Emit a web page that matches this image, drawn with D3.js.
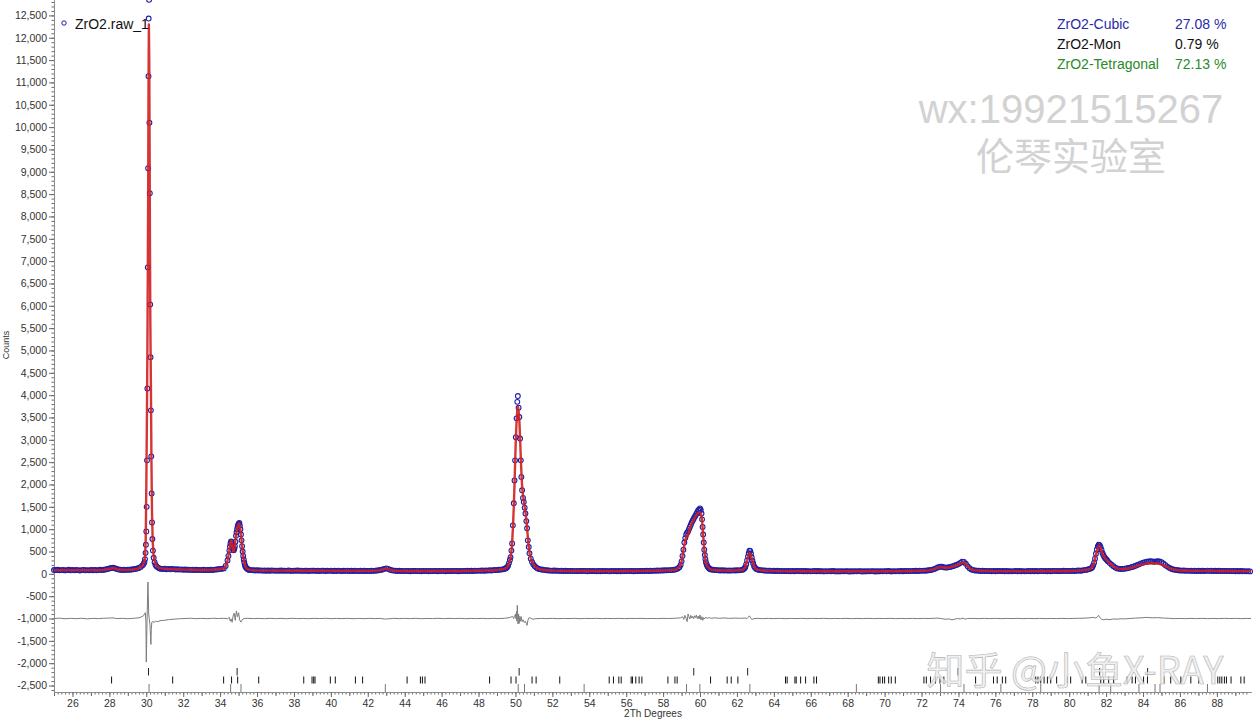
<!DOCTYPE html>
<html>
<head>
<meta charset="utf-8">
<script src="https://cdn.jsdelivr.net/npm/d3@7"></script>
<style>
body { margin: 0; background: #fff; }
svg { display: block; font-family: "Liberation Sans", Arial, sans-serif; }
.axis path { stroke: #8c8c8c; }
.axis line { stroke: #6a6a6a; }
.axis text { fill: #333; font-size: 10.5px; font-family: "Liberation Sans", Arial, sans-serif; }
</style>
</head>
<body>
<script>
// observed counts, [2theta, counts]
var observed = [
[25.0,86],[25.1,82],[25.2,90],[25.3,79],[25.4,84],[25.5,88],[25.6,77],[25.7,83],[25.8,91],[25.9,80],
[26.0,85],[26.1,78],[26.2,87],[26.3,82],[26.4,76],[26.5,84],[26.6,89],[26.7,80],[26.8,83],[26.9,78],
[27.0,86],[27.1,81],[27.2,88],[27.3,79],[27.4,84],[27.5,90],[27.6,85],[27.7,92],[27.8,98],[27.9,108],
[28.0,120],[28.1,131],[28.2,136],[28.3,124],[28.4,108],[28.5,96],[28.6,90],[28.7,86],[28.8,92],[28.9,88],
[29.0,94],[29.1,90],[29.2,97],[29.3,102],[29.4,108],[29.5,118],[29.6,132],[29.7,155],[29.8,190],[29.85,220],
[29.9,260],[29.93,330],[29.96,470],[29.98,650],[30.0,950],[30.02,1500],[30.04,2540],[30.06,4150],[30.08,6860],
[30.1,9080],[30.12,11140],[30.13,12430],[30.15,12850],[30.17,10100],[30.19,8520],[30.21,6030],[30.23,4850],
[30.25,3660],[30.27,2630],[30.29,1800],[30.31,1150],[30.33,780],[30.36,520],[30.4,360],[30.45,260],[30.5,200],
[30.56,165],[30.64,140],[30.72,120],
[30.8,112],[30.9,108],[31.0,115],[31.1,104],[31.2,110],[31.3,102],[31.4,112],[31.5,106],[31.6,98],[31.7,103],
[31.8,95],[31.9,100],[32.0,92],[32.1,97],[32.2,90],[32.3,94],[32.4,88],[32.5,93],[32.6,86],[32.7,91],
[32.8,85],[32.9,89],[33.0,84],[33.1,90],[33.2,83],[33.3,88],[33.4,86],[33.5,92],[33.6,87],[33.7,95],
[33.8,98],[33.9,104],[34.0,110],
[34.1,112],[34.2,122],[34.3,178],[34.4,300],[34.45,400],[34.5,520],[34.53,610],[34.56,680],[34.59,727],[34.62,710],
[34.65,640],[34.68,580],[34.71,535],[34.74,526],[34.77,560],[34.8,620],[34.83,720],[34.86,850],[34.89,930],[34.92,1000],
[34.95,1060],[34.98,1100],[35.01,1120],[35.04,1140],[35.07,1080],[35.1,1000],[35.13,880],[35.16,750],[35.19,620],[35.22,500],
[35.25,400],[35.28,320],[35.31,255],[35.34,200],[35.37,165],[35.4,140],[35.45,118],[35.5,102],[35.55,92],[35.6,88],
[35.7,84],[35.8,80],[35.9,76],[36.0,79],[36.1,74],[36.2,78],[36.3,71],[36.4,75],[36.5,69],[36.6,74],
[36.7,70],[36.8,77],[36.9,72],[37.0,68],[37.1,73],[37.2,70],[37.3,76],[37.4,69],[37.5,72],[37.6,67],
[37.7,74],[37.8,70],[37.9,66],[38.0,72],[38.1,69],[38.2,75],[38.3,68],[38.4,71],[38.5,66],[38.6,73],
[38.7,69],[38.8,64],[38.9,71],[39.0,68],[39.1,73],[39.2,66],[39.3,70],[39.4,65],[39.5,72],[39.6,68],
[39.7,63],[39.8,70],[39.9,67],[40.0,72],[40.1,65],[40.2,69],[40.3,64],[40.4,71],[40.5,67],[40.6,62],
[40.7,69],[40.8,66],[40.9,71],[41.0,64],[41.1,68],[41.2,63],[41.3,70],[41.4,66],[41.5,61],[41.6,68],
[41.7,65],[41.8,70],[41.9,63],[42.0,67],[42.1,62],[42.2,69],[42.3,66],[42.4,71],[42.5,74],[42.6,80],
[42.7,88],[42.8,98],[42.9,112],[43.0,122],[43.1,112],[43.2,94],[43.3,80],[43.4,72],
[43.5,68],[43.6,64],[43.7,69],[43.8,62],[43.9,66],[44.0,61],[44.1,67],[44.2,63],[44.3,59],[44.4,65],
[44.5,62],[44.6,67],[44.7,60],[44.8,64],[44.9,58],[45.0,65],[45.1,61],[45.2,66],[45.3,59],[45.4,63],
[45.5,60],[45.6,66],[45.7,62],[45.8,57],[45.9,64],[46.0,61],[46.1,66],[46.2,59],[46.3,63],[46.4,60],
[46.5,65],[46.6,61],[46.7,67],[46.8,62],[46.9,58],[47.0,64],[47.1,61],[47.2,67],[47.3,63],[47.4,69],
[47.5,64],[47.6,68],[47.7,65],[47.8,71],[47.9,67],[48.0,72],[48.1,68],[48.2,74],[48.3,70],[48.4,76],
[48.5,73],[48.6,79],[48.7,76],[48.8,82],[48.9,86],[49.0,84],[49.1,90],[49.2,94],[49.3,100],
[49.4,110],[49.45,118],[49.5,130],[49.55,145],[49.6,180],[49.65,240],[49.7,310],[49.73,370],[49.78,520],[49.82,680],
[49.86,1085],[49.91,1580],[49.95,2090],[49.98,2540],[50.02,3060],[50.06,3480],[50.1,3850],[50.13,3980],[50.17,3720],[50.21,3510],
[50.25,3030],[50.29,2540],[50.32,2170],[50.36,1870],[50.41,1700],[50.45,1610],[50.5,1480],[50.54,1350],[50.59,1180],[50.63,1020],
[50.67,750],[50.72,600],[50.76,460],[50.83,340],[50.9,265],[50.97,210],[51.05,170],[51.13,140],[51.2,122],[51.3,105],
[51.4,96],[51.5,90],[51.6,84],[51.7,80],[51.8,76],[51.9,73],[52.0,70],[52.1,74],[52.2,68],[52.3,71],
[52.4,66],[52.5,70],[52.6,64],[52.7,68],[52.8,63],[52.9,67],[53.0,62],[53.1,66],[53.2,61],[53.3,65],
[53.4,60],[53.5,66],[53.6,62],[53.7,67],[53.8,63],[53.9,59],[54.0,64],[54.1,60],[54.2,65],[54.3,61],
[54.4,58],[54.5,63],[54.6,59],[54.7,64],[54.8,60],[54.9,65],[55.0,61],[55.1,57],[55.2,63],[55.3,60],
[55.4,64],[55.5,59],[55.6,62],[55.7,58],[55.8,64],[55.9,60],[56.0,65],[56.1,61],[56.2,66],[56.3,62],
[56.4,58],[56.5,64],[56.6,60],[56.7,66],[56.8,62],[56.9,67],[57.0,63],[57.1,69],[57.2,65],[57.3,70],
[57.4,66],[57.5,72],[57.6,68],[57.7,74],[57.8,71],[57.9,77],[58.0,74],[58.1,80],[58.2,78],[58.3,84],
[58.4,82],[58.5,88],
[58.6,92],[58.7,100],[58.8,120],[58.88,150],[58.95,200],[59.0,280],[59.05,400],[59.1,540],[59.15,700],[59.2,800],
[59.25,880],[59.3,920],[59.35,950],[59.4,1000],[59.45,1050],[59.5,1100],[59.55,1150],[59.6,1190],[59.65,1230],[59.7,1270],
[59.75,1300],[59.8,1340],[59.85,1380],[59.9,1420],[59.95,1440],[60.0,1465],[60.04,1430],[60.08,1350],[60.11,1220],[60.14,1050],
[60.17,880],[60.2,700],[60.23,540],[60.26,420],[60.29,330],[60.32,260],[60.36,210],[60.4,170],[60.45,140],[60.5,120],
[60.55,105],[60.6,96],
[60.7,90],[60.8,86],[60.9,82],[61.0,80],[61.1,76],[61.2,79],[61.3,74],[61.4,77],[61.5,72],[61.6,76],
[61.7,73],[61.8,78],[61.9,75],[62.0,80],[62.1,78],[62.2,84],[62.3,90],
[62.35,100],[62.4,118],[62.45,150],[62.5,210],[62.55,300],[62.6,390],[62.64,460],[62.68,520],[62.72,510],[62.76,455],
[62.8,370],[62.84,295],[62.88,230],[62.93,170],[62.98,135],[63.05,110],[63.12,95],
[63.2,88],[63.3,82],[63.4,78],[63.5,74],[63.6,71],[63.7,68],[63.8,72],[63.9,66],[64.0,69],[64.1,64],
[64.2,68],[64.3,62],[64.4,66],[64.5,61],[64.6,65],[64.7,60],[64.8,64],[64.9,59],[65.0,63],[65.1,58],
[65.2,62],[65.3,66],[65.4,60],[65.5,64],[65.6,59],[65.7,62],[65.8,57],[65.9,61],[66.0,56],[66.1,60],
[66.2,64],[66.3,58],[66.4,62],[66.5,57],[66.6,61],[66.7,55],[66.8,60],[66.9,56],[67.0,61],[67.1,57],
[67.2,62],[67.3,58],[67.4,54],[67.5,59],[67.6,55],[67.7,60],[67.8,56],[67.9,61],[68.0,57],[68.1,53],
[68.2,58],[68.3,54],[68.4,60],[68.5,56],[68.6,61],[68.7,57],[68.8,53],[68.9,58],[69.0,55],[69.1,60],
[69.2,56],[69.3,61],[69.4,57],[69.5,53],[69.6,59],[69.7,55],[69.8,60],[69.9,56],[70.0,61],[70.1,57],
[70.2,62],[70.3,58],[70.4,54],[70.5,60],[70.6,56],[70.7,61],[70.8,57],[70.9,63],[71.0,59],[71.1,64],
[71.2,60],[71.3,65],[71.4,61],[71.5,67],[71.6,63],[71.7,68],[71.8,65],[71.9,70],[72.0,67],[72.1,73],
[72.2,70],[72.3,76],
[72.4,80],[72.5,86],[72.6,95],[72.7,108],[72.8,128],[72.9,148],[73.0,160],[73.1,158],[73.2,148],[73.3,140],
[73.4,142],[73.5,150],[73.6,160],[73.7,172],[73.8,186],[73.9,200],[74.0,220],[74.1,245],[74.2,272],[74.3,268],
[74.4,225],[74.5,170],[74.6,125],[74.7,98],[74.8,84],
[74.9,76],[75.0,72],[75.1,69],[75.2,65],[75.3,68],[75.4,63],[75.5,66],[75.6,61],[75.7,64],[75.8,59],
[75.9,63],[76.0,58],[76.1,62],[76.2,66],[76.3,60],[76.4,64],[76.5,58],[76.6,62],[76.7,57],[76.8,61],
[76.9,56],[77.0,60],[77.1,64],[77.2,58],[77.3,62],[77.4,57],[77.5,61],[77.6,56],[77.7,60],[77.8,64],
[77.9,59],[78.0,63],[78.1,58],[78.2,62],[78.3,57],[78.4,61],[78.5,66],[78.6,60],[78.7,64],[78.8,59],
[78.9,63],[79.0,58],[79.1,62],[79.2,67],[79.3,61],[79.4,65],[79.5,60],[79.6,64],[79.7,69],[79.8,63],
[79.9,67],[80.0,62],[80.1,66],[80.2,71],[80.3,65],[80.4,69],[80.5,74],[80.6,70],[80.7,76],[80.8,82],
[80.9,88],
[81.0,96],[81.1,108],[81.2,125],[81.25,150],[81.3,190],[81.35,250],[81.4,340],[81.45,450],[81.5,545],[81.55,615],
[81.6,650],[81.65,640],[81.7,600],[81.75,540],[81.8,470],[81.85,420],[81.9,380],[81.95,350],[82.0,330],[82.05,305],
[82.1,280],[82.2,240],[82.3,205],[82.4,170],[82.5,140],[82.6,122],[82.7,112],[82.8,108],[82.9,110],[83.0,116],
[83.1,122],[83.2,130],[83.3,140],[83.4,152],[83.5,165],[83.6,180],[83.7,198],[83.8,218],[83.9,235],[84.0,250],
[84.1,262],[84.2,270],[84.3,276],[84.4,282],[84.5,278],[84.6,272],[84.7,278],[84.8,282],[84.9,276],[85.0,260],
[85.1,232],[85.2,200],[85.3,168],[85.4,140],[85.5,118],[85.6,104],[85.7,94],[85.8,86],[85.9,80],
[86.0,76],[86.1,72],[86.2,75],[86.3,69],[86.4,72],[86.5,67],[86.6,71],[86.7,66],[86.8,70],[86.9,65],
[87.0,69],[87.1,64],[87.2,68],[87.3,63],[87.4,67],[87.5,71],[87.6,66],[87.7,70],[87.8,65],[87.9,69],
[88.0,64],[88.1,68],[88.2,63],[88.3,67],[88.4,62],[88.5,66],[88.6,61],[88.7,65],[88.8,60],[88.9,64],
[89.0,59],[89.1,63],[89.2,58],[89.3,62],[89.4,57],[89.5,61],[89.6,56],[89.7,60],[89.8,55]
];

// calculated profile, [2theta, counts]
var calculated = [
[25.0,82],[26,82],[27,82],[27.6,84],[27.9,100],[28.2,130],[28.5,96],[28.8,88],[29.2,92],[29.5,112],
[29.7,150],[29.8,190],[29.9,280],[29.94,420],[29.97,800],[30.0,1900],[30.03,3300],[30.06,5000],[30.08,6600],[30.1,8300],
[30.12,10800],[30.14,12300],[30.16,11500],[30.18,9600],[30.2,7300],[30.22,5600],[30.25,4240],[30.28,2500],[30.31,1350],[30.35,700],
[30.4,400],[30.46,270],[30.55,180],[30.7,135],[31,110],[31.5,102],[32,95],[32.5,90],[33,87],[33.5,89],
[33.8,96],[34.0,108],[34.2,125],[34.3,170],[34.4,290],[34.5,520],[34.56,690],[34.6,740],[34.62,730],[34.68,560],
[34.74,500],[34.8,640],[34.86,870],[34.92,1010],[34.98,1090],[35.04,1120],[35.1,990],[35.16,760],[35.22,500],[35.28,320],
[35.34,200],[35.4,140],[35.5,100],[35.7,82],[36,77],[37,71],[38,70],[39,68],[40,67],[41,66],
[42,67],[42.6,76],[42.8,96],[43.0,118],[43.2,92],[43.4,70],[44,64],[45,62],[46,62],[47,64],
[48,70],[48.8,80],[49.2,95],[49.4,110],[49.55,145],[49.65,235],[49.73,360],[49.8,560],[49.86,1000],[49.91,1500],
[49.95,2000],[49.98,2450],[50.02,3000],[50.06,3400],[50.1,3680],[50.14,3735],[50.17,3650],[50.21,3450],[50.25,3050],[50.29,2600],
[50.33,2200],[50.37,1900],[50.42,1720],[50.46,1620],[50.5,1500],[50.55,1360],[50.6,1170],[50.64,980],[50.68,770],[50.72,600],
[50.77,450],[50.84,330],[50.92,250],[51.0,195],[51.1,150],[51.2,122],[51.4,95],[51.7,80],[52,72],[53,65],
[54,62],[55,61],[56,62],[57,66],[57.6,70],[58,76],[58.4,84],[58.7,100],[58.88,150],[59.0,270],
[59.1,530],[59.2,760],[59.27,840],[59.32,830],[59.38,900],[59.45,1020],[59.55,1130],[59.65,1210],[59.75,1280],[59.85,1340],
[59.95,1380],[60.0,1375],[60.04,1360],[60.08,1300],[60.12,1150],[60.16,920],[60.2,700],[60.25,450],[60.3,290],[60.36,200],
[60.45,140],[60.55,105],[60.7,88],[61,78],[61.5,75],[62,79],[62.3,90],[62.45,145],[62.55,290],[62.62,410],
[62.68,460],[62.74,440],[62.8,350],[62.88,220],[62.96,140],[63.1,95],[63.4,77],[64,67],[65,61],[66,59],
[67,58],[68,57],[69,57],[70,58],[71,61],[72,68],[72.4,78],[72.7,105],[72.9,140],[73.05,150],
[73.2,142],[73.35,135],[73.5,145],[73.7,165],[73.9,190],[74.1,230],[74.25,255],[74.35,240],[74.5,165],[74.65,110],
[74.8,82],[75.2,68],[76,61],[77,60],[78,61],[79,62],[80,65],[80.5,72],[80.9,86],[81.1,105],
[81.25,145],[81.35,240],[81.45,430],[81.55,590],[81.62,625],[81.7,580],[81.8,460],[81.9,370],[82.0,320],[82.1,275],
[82.3,200],[82.5,140],[82.7,110],[82.9,105],[83.2,120],[83.5,150],[83.8,195],[84.1,225],[84.4,240],[84.7,238],
[85.0,215],[85.2,180],[85.4,130],[85.6,100],[85.9,80],[86.5,70],[87.5,67],[88.5,64],[89.85,60]
];

// difference curve (obs - calc, drawn at -1000 offset)
var difference = [
[25.0,-1000],[25.3,-992],[25.6,-1006],[25.9,-996],[26.2,-1004],[26.5,-995],[26.8,-1008],[27.1,-997],[27.4,-1003],[27.7,-994],
[28.0,-990],[28.2,-985],[28.4,-1002],[28.7,-996],[29.0,-1005],[29.3,-995],[29.6,-985],[29.75,-960],[29.85,-940],[29.9,-900],
[29.95,-870],[29.98,-1100],[30.0,-1975],[30.02,-1500],[30.04,-1100],[30.06,-700],[30.08,-300],[30.09,-184],[30.11,-500],[30.13,-900],
[30.16,-1000],[30.2,-1150],[30.23,-1400],[30.25,-1580],[30.27,-1250],[30.3,-1080],[30.35,-1060],[30.4,-1090],[30.5,-1060],[30.6,-1070],
[30.8,-1045],[31.0,-1040],[31.2,-1025],[31.5,-1015],[31.8,-1005],[32.1,-1000],[32.4,-994],[32.7,-1004],[33.0,-997],[33.3,-1003],
[33.6,-995],[33.9,-1000],[34.2,-995],[34.4,-1005],[34.5,-975],[34.55,-1060],[34.6,-1010],[34.65,-1085],[34.7,-950],[34.76,-880],
[34.82,-1040],[34.88,-830],[34.94,-960],[35.0,-870],[35.06,-1030],[35.12,-1080],[35.18,-1040],[35.24,-1010],[35.3,-1000],[35.5,-996],
[35.8,-1002],[36.1,-997],[36.4,-1004],[36.7,-996],[37.0,-1003],[37.3,-997],[37.6,-1005],[37.9,-995],[38.2,-1002],[38.5,-998],
[38.8,-1004],[39.1,-996],[39.4,-1001],[39.7,-995],[40.0,-1003],[40.3,-998],[40.6,-1002],[40.9,-996],[41.2,-1004],[41.5,-999],
[41.8,-1003],[42.1,-997],[42.4,-1002],[42.7,-998],[42.9,-1012],[43.1,-1008],[43.4,-996],[43.7,-1003],[44.0,-997],[44.3,-1002],
[44.6,-996],[44.9,-1004],[45.2,-998],[45.5,-1002],[45.8,-995],[46.1,-1003],[46.4,-997],[46.7,-1001],[47.0,-996],[47.3,-1004],
[47.6,-998],[47.9,-1002],[48.2,-996],[48.5,-1003],[48.8,-997],[49.1,-1002],[49.4,-995],[49.6,-985],[49.75,-970],[49.85,-950],
[49.9,-1000],[49.95,-960],[50.0,-900],[50.03,-1010],[50.06,-840],[50.08,-1060],[50.1,-705],[50.12,-880],[50.14,-1120],[50.17,-900],
[50.2,-1110],[50.24,-950],[50.28,-1060],[50.32,-960],[50.36,-1070],[50.42,-1030],[50.48,-1090],[50.54,-1060],[50.6,-1120],[50.63,-1153],
[50.67,-1050],[50.72,-990],[50.78,-980],[50.85,-1000],[50.95,-1015],[51.1,-1005],[51.4,-998],[51.7,-1002],[52.0,-996],[52.3,-1003],
[52.6,-998],[52.9,-1002],[53.2,-996],[53.5,-1004],[53.8,-998],[54.1,-1001],[54.4,-996],[54.7,-1003],[55.0,-998],[55.3,-1002],
[55.6,-997],[55.9,-1003],[56.2,-998],[56.5,-1001],[56.8,-996],[57.1,-1003],[57.4,-998],[57.7,-1002],[58.0,-996],[58.3,-1001],
[58.6,-995],[58.8,-990],[58.95,-985],[59.05,-960],[59.12,-1020],[59.18,-930],[59.24,-990],[59.3,-1070],[59.35,-900],[59.4,-960],
[59.45,-1010],[59.5,-930],[59.55,-990],[59.6,-950],[59.65,-1010],[59.7,-940],[59.75,-980],[59.8,-925],[59.85,-1000],[59.9,-945],
[59.95,-1010],[60.0,-920],[60.05,-1030],[60.1,-960],[60.15,-1040],[60.2,-980],[60.25,-1010],[60.3,-975],[60.4,-995],[60.5,-980],
[60.6,-995],[60.8,-985],[61.0,-995],[61.3,-988],[61.6,-997],[61.9,-990],[62.2,-996],[62.45,-990],[62.55,-1000],[62.62,-970],
[62.68,-940],[62.74,-985],[62.8,-1020],[62.9,-1005],[63.1,-996],[63.4,-1003],[63.7,-997],[64.0,-1002],[64.3,-996],[64.6,-1003],
[64.9,-998],[65.2,-1002],[65.5,-996],[65.8,-1003],[66.1,-997],[66.4,-1001],[66.7,-996],[67.0,-1003],[67.3,-998],[67.6,-1002],
[67.9,-997],[68.2,-1003],[68.5,-998],[68.8,-1002],[69.1,-996],[69.4,-1003],[69.7,-998],[70.0,-1001],[70.3,-996],[70.6,-1003],
[70.9,-998],[71.2,-1002],[71.5,-997],[71.8,-1002],[72.1,-997],[72.4,-1000],[72.7,-995],[72.9,-990],[73.1,-1005],[73.3,-1015],
[73.5,-1010],[73.65,-1030],[73.8,-1015],[73.95,-1000],[74.1,-1010],[74.25,-990],[74.35,-1015],[74.5,-1000],[74.8,-998],[75.1,-1003],
[75.4,-997],[75.7,-1002],[76.0,-996],[76.3,-1003],[76.6,-998],[76.9,-1002],[77.2,-996],[77.5,-1003],[77.8,-998],[78.1,-1002],
[78.4,-997],[78.7,-1003],[79.0,-998],[79.3,-1002],[79.6,-996],[79.9,-1002],[80.2,-998],[80.5,-995],[80.8,-992],[81.1,-985],
[81.3,-975],[81.45,-990],[81.55,-950],[81.6,-930],[81.65,-975],[81.75,-1015],[81.85,-1030],[82.0,-1015],[82.2,-1025],[82.4,-1010],
[82.6,-1015],[82.8,-1005],[83.0,-1008],[83.3,-1000],[83.6,-990],[83.9,-985],[84.2,-975],[84.5,-985],[84.8,-980],[85.1,-990],
[85.4,-995],[85.7,-1002],[86.0,-998],[86.3,-1003],[86.6,-997],[86.9,-1002],[87.2,-997],[87.5,-1003],[87.8,-998],[88.1,-1002],
[88.4,-996],[88.7,-1001],[89.0,-997],[89.3,-1003],[89.6,-998],[89.85,-1000]
];

// reflection positions per phase
var cubicPeaks = [30.12, 34.92, 50.2, 59.66, 62.58, 73.98, 81.65, 84.25];
var monPeaks = [28.12, 31.43, 34.19, 34.62, 34.95, 36.09, 38.53, 38.98, 39.07, 39.14, 39.97, 40.24, 41.33, 41.72,
    44.13, 44.85, 44.96, 45.1, 48.6, 49.76, 50.03, 50.9, 51.12, 52.4, 55.08, 55.31, 55.6, 55.73, 56.27, 56.34,
    56.52, 56.7, 56.85, 58.26, 58.64, 58.76, 60.57, 61.47, 61.69, 62.05, 64.63, 64.72, 65.14, 65.21, 65.45,
    65.72, 66.17, 66.31, 69.66, 69.75, 69.89, 70.0, 70.22, 70.36, 70.58, 72.13, 72.26, 72.49, 72.76, 73.0,
    73.21, 74.93, 75.9, 76.1, 76.38, 76.56, 78.19, 78.31, 78.46, 78.64, 78.82, 79.0, 79.32, 79.9, 80.08, 80.7,
    80.9, 81.71, 81.87, 82.14, 82.41, 83.14, 83.41, 83.59, 84.03, 84.24, 85.14, 85.5, 86.05, 86.59, 87.02,
    88.05, 88.16, 88.27, 88.41, 88.52, 88.77, 89.3, 89.48];
var tetraPeaks = [30.15, 34.57, 35.13, 42.95, 50.15, 50.49, 53.72, 59.27, 59.99, 62.7, 68.47, 73.03, 74.3,
    76.3, 78.46, 81.62, 82.25, 83.78, 84.65, 84.92, 87.49];

var phaseNames = ["ZrO2-Cubic", "ZrO2-Mon", "ZrO2-Tetragonal"];
var phasePercent = ["27.08 %", "0.79 %", "72.13 %"];
var phaseColors = ["#2a2aa8", "#111111", "#2a8a2a"];

var xTicks = d3.range(26, 90, 2);
var yTicks = d3.range(-2500, 12501, 500);

var width = 1254, height = 720;
var svg = d3.select("body").append("svg").attr("width", width).attr("height", height);

var x = d3.scaleLinear().domain([25, 89.85]).range([54, 1251]);
var y = d3.scaleLinear().domain([-2645, 12845]).range([692, 0]);
var bottom = y.range()[0];

var fmt = function(d){ return d3.format(",")(d).replace("\u2212", "-"); };

// minor ticks first, then the labelled axes over them
svg.append("g").attr("class", "axis")
    .attr("transform", "translate(0," + bottom + ")")
    .call(d3.axisBottom(x).tickValues(d3.range(126, 449).map(function(i){ return i / 5; }))
        .tickSize(2.5).tickSizeOuter(0).tickFormat(""));
svg.append("g").attr("class", "axis")
    .attr("transform", "translate(0," + bottom + ")")
    .call(d3.axisBottom(x).tickValues(d3.range(25, 90, 2)).tickSize(4).tickSizeOuter(0).tickFormat(""));
svg.append("g").attr("class", "axis")
    .attr("transform", "translate(0," + bottom + ")")
    .call(d3.axisBottom(x).tickValues(xTicks).tickSize(5).tickPadding(3).tickSizeOuter(0));

svg.append("g").attr("class", "axis")
    .attr("transform", "translate(" + x.range()[0] + ",0)")
    .call(d3.axisLeft(y).tickValues(d3.range(-2600, 12801, 100)).tickSize(2.5).tickSizeOuter(0).tickFormat(""));
svg.append("g").attr("class", "axis")
    .attr("transform", "translate(" + x.range()[0] + ",0)")
    .call(d3.axisLeft(y).tickValues(yTicks).tickSize(5).tickPadding(2).tickSizeOuter(0).tickFormat(fmt));

svg.append("text").attr("x", 653).attr("y", 717).attr("text-anchor", "middle")
    .style("font-size", "10px").style("fill", "#333").text("2Th Degrees");
svg.append("text").attr("transform", "translate(9,345) rotate(-90)").attr("text-anchor", "middle")
    .style("font-size", "9px").style("fill", "#333").text("Counts");

// difference curve
var line = d3.line().x(function(d){ return x(d[0]); }).y(function(d){ return y(d[1]); });
svg.append("path").attr("d", line(difference))
    .attr("fill", "none").attr("stroke", "#7c7c7c").attr("stroke-width", 1);

// reflection markers, one row per phase
function tickRow(peaks, y1, y2, color) {
    svg.append("g").selectAll("line").data(peaks).enter().append("line")
        .attr("x1", function(d){ return x(d); }).attr("x2", function(d){ return x(d); })
        .attr("y1", y1).attr("y2", y2)
        .attr("stroke", color).attr("stroke-width", 1);
}
tickRow(cubicPeaks, bottom - 24, bottom - 16.5, "#222");
tickRow(monPeaks, bottom - 15.5, bottom - 8.5, "#111");
tickRow(tetraPeaks, bottom - 8, bottom, "#777");

// observed points and calculated line
svg.append("g").selectAll("circle").data(observed).enter().append("circle")
    .attr("cx", function(d){ return x(d[0]); })
    .attr("cy", function(d){ return y(d[1]); })
    .attr("r", 2.4)
    .attr("fill", "none").attr("stroke", "#1e1ea6").attr("stroke-width", 1.1);

svg.append("path").attr("d", line(calculated))
    .attr("fill", "none").attr("stroke", "#d01f1f").attr("stroke-width", 2.4)
    .attr("stroke-linejoin", "round").attr("opacity", 0.9);

// legends
svg.append("circle").attr("cx", 64).attr("cy", 23).attr("r", 2.2)
    .attr("fill", "none").attr("stroke", "#1e1ea6");
svg.append("text").attr("x", 75).attr("y", 29).style("font-size", "14px").style("fill", "#111").text("ZrO2.raw_1");

var leg = svg.append("g").selectAll("g").data(phaseNames).enter().append("g");
leg.append("text").attr("x", 1057).attr("y", function(d, i){ return 29 + i * 20; })
    .style("font-size", "14px").style("fill", function(d, i){ return phaseColors[i]; })
    .text(function(d){ return d; });
leg.append("text").attr("x", 1175).attr("y", function(d, i){ return 29 + i * 20; })
    .style("font-size", "14px").style("fill", function(d, i){ return phaseColors[i]; })
    .text(function(d, i){ return phasePercent[i]; });

// watermarks
svg.append("text").attr("x", 1071).attr("y", 123).attr("text-anchor", "middle")
    .style("font-size", "40px").style("fill", "#d2d2d2").text("wx:19921515267");
svg.append("text").attr("x", 1071).attr("y", 170).attr("text-anchor", "middle")
    .style("font-family", "'Noto Sans CJK SC'").style("font-size", "38px").style("fill", "#d2d2d2").text("伦琴实验室");
svg.append("text").attr("x", 1075).attr("y", 684).attr("text-anchor", "middle")
    .style("font-family", "'Noto Sans CJK SC'").style("font-size", "38px")
    .style("fill", "#ececec").style("fill-opacity", 0.8).style("stroke", "#b4b4b4").style("stroke-width", 0.6)
    .text("知乎 @小鱼X-RAY");
</script>
</body>
</html>
